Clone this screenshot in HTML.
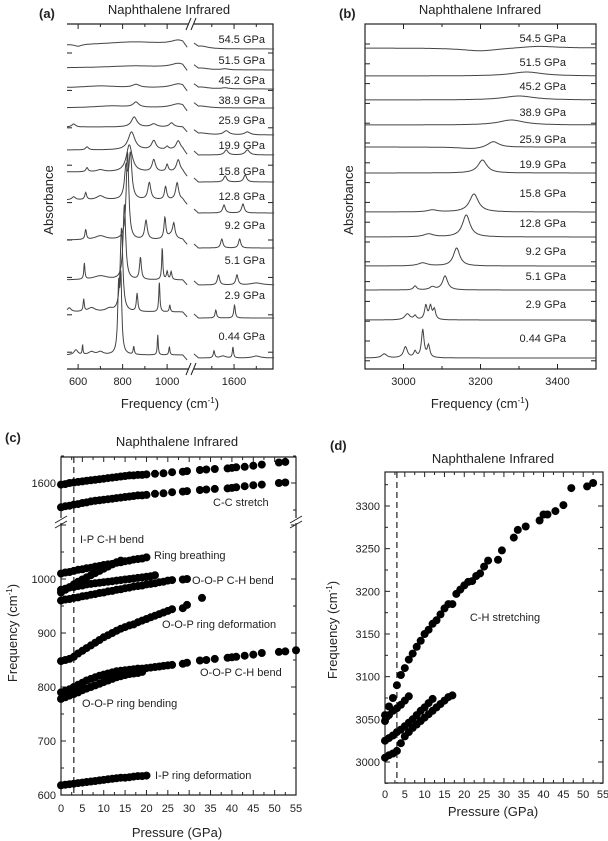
<!DOCTYPE html>
<html><head><meta charset="utf-8">
<style>
body{margin:0;background:#fff;}
svg{display:block;font-family:"Liberation Sans",Arial,sans-serif;}
text{fill:#222;}
</style></head>
<body>
<svg id="fig" width="608" height="841" viewBox="0 0 608 841">
<g id="frames" fill="none" stroke="#222" stroke-width="1.2">
  <path d="M67,24 H189 M194,24 H273 V369 H194 M189,369 H67 Z"/>
  <rect x="365" y="24" width="231" height="345"/>
  <path d="M61,518 V457 H296 V518 M296,523 V795 H61 V523"/>
  <rect x="385" y="472" width="218" height="311"/>
</g>
<g id="breaks" stroke="#222" stroke-width="1" fill="none">
  <path d="M186,30 L191,18 M191,30 L196,18"/>
  <path d="M186,375 L191,363 M191,375 L196,363"/>
  <path d="M55,523 L67,516 M55,528 L67,521"/>
  <path d="M290,523 L302,516 M290,528 L302,521"/>
</g>
<g id="txt" font-size="12">
  <text x="39" y="18" font-weight="bold" font-size="13">(a)</text>
  <text x="169" y="14" text-anchor="middle" font-size="13">Naphthalene Infrared</text>
  <text x="339" y="18" font-weight="bold" font-size="13">(b)</text>
  <text x="480" y="14" text-anchor="middle" font-size="13">Naphthalene Infrared</text>
  <text x="5" y="442" font-weight="bold" font-size="13">(c)</text>
  <text x="177" y="446" text-anchor="middle" font-size="13">Naphthalene Infrared</text>
  <text x="330" y="450" font-weight="bold" font-size="13">(d)</text>
  <text x="493" y="463" text-anchor="middle" font-size="13">Naphthalene Infrared</text>
  <text transform="translate(53,200) rotate(-90)" text-anchor="middle" font-size="13">Absorbance</text>
  <text transform="translate(353,200) rotate(-90)" text-anchor="middle" font-size="13">Absorbance</text>
  <text x="170" y="408" text-anchor="middle" font-size="13">Frequency (cm<tspan dy="-5" font-size="8">-1</tspan><tspan dy="5">)</tspan></text>
  <text x="480" y="408" text-anchor="middle" font-size="13">Frequency (cm<tspan dy="-5" font-size="8">-1</tspan><tspan dy="5">)</tspan></text>
  <text transform="translate(17,633) rotate(-90)" text-anchor="middle" font-size="13">Frequency (cm<tspan dy="-5" font-size="8">-1</tspan><tspan dy="5">)</tspan></text>
  <text transform="translate(337,630) rotate(-90)" text-anchor="middle" font-size="13">Frequency (cm<tspan dy="-5" font-size="8">-1</tspan><tspan dy="5">)</tspan></text>
  <text x="177" y="837" text-anchor="middle" font-size="13">Pressure (GPa)</text>
  <text x="493" y="816" text-anchor="middle" font-size="13">Pressure (GPa)</text>
  <text x="213" y="506" font-size="11">C-C stretch</text>
  <text x="80" y="543" font-size="11">I-P C-H bend</text>
  <text x="154" y="559" font-size="11">Ring breathing</text>
  <text x="192" y="584" font-size="11">O-O-P C-H bend</text>
  <text x="162" y="628" font-size="11">O-O-P ring deformation</text>
  <text x="200" y="676" font-size="11">O-O-P C-H bend</text>
  <text x="82" y="707" font-size="11">O-O-P ring bending</text>
  <text x="155" y="779" font-size="11">I-P ring deformation</text>
  <text x="505" y="621" text-anchor="middle" font-size="11">C-H stretching</text>
</g>
<g id="plots"></g>
</svg>
<script>
// ---------- data ----------
var pressureLabels = ["54.5 GPa","51.5 GPa","45.2 GPa","38.9 GPa","25.9 GPa","19.9 GPa","15.8 GPa","12.8 GPa","9.2 GPa","5.1 GPa","2.9 GPa","0.44 GPa"];
// panel (a) low-frequency segment peaks: [freq, height, width]
var aPeaks = [
 [[1050,4,40],[850,3,150],[600,-2,20]],
 [[1050,4,40],[850,2,150]],
 [[860,3,20],[1050,4,40],[700,2,100]],
 [[860,5,15],[1050,4,40],[750,2,100]],
 [[852,10,15],[940,3,15],[1020,4,12],[580,3,10]],
 [[840,18,18],[940,9,12],[1000,3,8],[1050,9,12],[640,3,8]],
 [[830,27,16],[940,12,9],[1000,7,6],[1050,12,10],[640,4,6],[700,2,20]],
 [[815,30,8],[835,44,8],[920,17,8],[993,13,6],[1045,17,8],[634,7,5],[700,4,20],[580,3,10]],
 [[822,88,7],[634,10,4],[905,19,7],[990,21,5],[1030,13,6],[700,4,30],[1020,5,20]],
 [[808,75,7],[628,16,3],[880,22,5],[978,32,3],[1000,8,4],[1018,8,4],[700,4,40]],
 [[795,84,7],[625,12,3],[865,18,4],[965,30,3],[1012,7,3],[660,4,20],[740,3,20],[560,4,10]],
 [[782,62,5],[792,72,5],[620,10,2],[850,8,3],[958,20,2.5],[1010,8,3],[590,5,10],[660,3,15],[700,3,15]]
];
// high-frequency segment peaks
var aPeaksHigh = [
 [[1450,3,40]],
 [[1560,1,20],[1450,2,40]],
 [[1560,1,20],[1450,2,40]],
 [[1450,2,40]],
 [[1565,4,15],[1660,3,15],[1450,2,40]],
 [[1565,5,10],[1660,5,12]],
 [[1560,6,8],[1650,7,8]],
 [[1555,8,7],[1640,9,7]],
 [[1545,9,6],[1625,9,6]],
 [[1530,10,6],[1613,10,6],[1700,2,30]],
 [[1518,8,4],[1602,13,4]],
 [[1510,7,4],[1595,11,3],[1550,2,15],[1700,2,20]]
];
var aBaselines = [45,68,88,108,127,150,172,200,240,280,312,355];
var aBaselinesHigh = [49,70,89,108,135,155,182,213,248,285,318,358];
var aLabelY = [43,64,84,104,124,149,175,200,229,264,299,340];
// panel (b)
var bPeaks = [
 [[3200,-3,60],[3350,2,60]],
 [[3320,4,50]],
 [[3300,4,50]],
 [[3280,5,40]],
 [[3233,6,18],[3180,-2,40]],
 [[3205,13,14]],
 [[3183,18,14],[3075,2,15]],
 [[3163,22,12],[3065,3,15]],
 [[3138,18,10],[3050,3,15]],
 [[3108,14,8],[3030,4,5],[3075,3,8]],
 [[3058,14,4],[3070,13,4],[3080,10,4],[3010,6,8],[3030,4,4]],
 [[3050,28,4],[3065,12,4],[3005,11,6],[3030,6,4],[2950,4,8]]
];
var bBaselines = [48,76,100,125,147,173,212,237,266,290,320,358];
var bLabelY = [42,66,90,116,143,168,197,227,255,280,308,342];
// panel (c) series
var ccUpperP = [0,1,2,3,4,5,6,7,8,9,10,11,12,13,14,15,16,17,18,19,20,22,24,26,28.5,29.5,32.5,34,36,39,40,41,43,45,47,51,52.5];
var ccUpperF = [1597,1598,1600,1601,1602,1603,1604,1605,1606,1607,1608,1609,1610,1611,1612,1613,1614,1614,1615,1615,1616,1617,1618,1620,1621,1622,1624,1625,1626,1627,1628,1629,1630,1632,1634,1638,1639];
var ccLowerF = [1555,1557,1558,1560,1561,1563,1564,1566,1567,1568,1569,1570,1571,1572,1573,1574,1575,1576,1577,1577,1578,1580,1581,1583,1584,1585,1587,1588,1589,1590,1591,1592,1594,1596,1597,1600,1601];
var ringBreathP = [0,1,2,3,4,5,6,7,8,9,10,11,12,13,14,15,16,17,18,19,20];
var ringBreathF = [1010,1012,1013,1015,1017,1018,1020,1021,1023,1024,1026,1027,1028,1030,1031,1033,1034,1036,1037,1038,1040];
var ipChP = [0,1,2,3,4,5,6,7,8,9,10,11,12,13,14];
var ipChF = [975,980,985,990,995,999,1003,1007,1011,1015,1019,1023,1027,1031,1034];
var oopChAP = [0,1,2,3,4,5,6,7,8,9,10,11,12,13,14,15,16,17,18,19,20,21,22];
var oopChAF = [980,982,984,985,987,988,990,991,992,993,994,995,996,997,998,999,1000,1001,1002,1003,1004,1005,1007];
var oopChBP = [0,1,2,3,4,5,6,7,8,9,10,11,12,13,14,15,16,17,18,19,20,21,22,23,24,25,26,28.5,29.5];
var oopChBF = [960,962,963,965,966,968,969,971,972,974,975,977,978,980,981,983,984,986,987,988,990,991,992,994,995,997,998,999,1000];
var oopRingDefP = [0,1,2,3,4,5,6,7,8,9,10,11,12,13,14,15,16,17,18,19,20,21,22,23,24,25,26,28.5,29.5,33];
var oopRingDefF = [848,850,852,856,862,867,872,877,882,887,892,896,900,904,908,911,914,916,920,923,926,929,932,935,938,941,944,946,952,965];
var oopChLowP = [0,1,2,3,4,5,6,7,8,9,10,11,12,13,14,15,16,17,18,19,20,21,22,23,24,25,26,28.5,29.5,32.5,34,36,39,40,41,43,45,47,51,52.5,55];
var oopChLowF = [790,793,796,800,804,808,812,815,818,821,823,825,827,829,830,831,832,833,834,834,835,836,837,838,839,840,841,843,845,849,850,852,854,855,856,858,860,863,865,866,868];
var oopBendP = [0,1,2,3,4,5,6,7,8,9,10,11,12,13,14,15,16,17,18,19];
var oopBendF = [778,781,784,787,790,794,797,800,803,806,809,812,815,818,820,822,824,825,826,828];
var ipRingDefP = [0,1,2,3,4,5,6,7,8,9,10,11,12,13,14,15,16,17,18,19,20];
var ipRingDefF = [618,619,620,621,622,623,624,625,626,627,628,629,630,631,632,632,633,634,635,635,636];
// panel (d)
var chMainP = [0,1,2,3,4,5,6,7,8,9,10,11,12,13,14,15,16,17,18,19,20,21,22,23,24,25,26,28.5,29.5,32.5,33.5,35.5,39,40,41,43,45,47,51,52.5];
var chMainF = [3055,3065,3075,3090,3102,3110,3120,3127,3135,3142,3150,3155,3162,3166,3173,3180,3185,3185,3197,3202,3207,3211,3212,3218,3221,3229,3236,3237,3248,3263,3272,3276,3283,3290,3290,3294,3301,3321,3323,3327];
var chBP = [0,1,2,3,4,5,6];
var chBF = [3048,3055,3060,3063,3067,3072,3077];
var chCP = [0,1,2,3,4,5,6,7,8,9,10,11,12];
var chCF = [3025,3028,3031,3035,3038,3042,3046,3050,3055,3060,3064,3069,3074];
var chDP = [0,1,2,3,4,5,6,7,8,9,10,11,12,13,14,15,16,17];
var chDF = [3005,3008,3010,3013,3022,3030,3035,3040,3044,3048,3052,3056,3060,3064,3068,3072,3076,3078];
var aXTicks = [600,800,1000,1600];
var bXTicks = [3000,3200,3400];
var cYTicks = [600,700,800,900,1000,1600];
var dYTicks = [3000,3050,3100,3150,3200,3250,3300];
var pTicks = [0,5,10,15,20,25,30,35,40,45,50,55];

// ---------- helpers ----------
var NS="http://www.w3.org/2000/svg";
var root=document.getElementById('plots');
function mk(tag,attrs,parent){var e=document.createElementNS(NS,tag);for(var k in attrs)e.setAttribute(k,attrs[k]);(parent||root).appendChild(e);return e;}
function xa(f){ if(f<=1100) return 67+(f-550)*0.2225; return 194+(f-1420)*0.2225; }
function xb(f){ return 365+(f-2900)*(231/600); }
function xc(p){ return 61+p*(235/55); }
function yc(f){ if(f>=1500) return 483-(f-1600)*0.54; return 795-(f-600)*0.54; }
function xd(p){ return 385+p*(218/55); }
function yd(f){ return 762-(f-3000)*(256/300); }
function lor(x,pk){var s=0;for(var i=0;i<pk.length;i++){var d=(x-pk[i][0])/pk[i][2];s+=pk[i][1]/(1+d*d);}return s;}

// ---------- panel a spectra ----------
for(var t=0;t<aPeaks.length;t++){
  var d="";
  for(var f=550,first=true;f<=1090;f+=1.5,first=false){
    var y=aBaselines[t]-lor(f,aPeaks[t]);
    if(f>1070) y+=(f-1070)*0.25;
    d+=(first?"M":"L")+xa(f).toFixed(1)+","+y.toFixed(1);
  }
  for(var f=1420,first=true;f<=1780;f+=1.5,first=false){
    var y=aBaselinesHigh[t]-lor(f,aPeaksHigh[t]);
    if(f<1440) y-=(1440-f)*0.2;
    d+=(first?"M":"L")+xa(f).toFixed(1)+","+y.toFixed(1);
  }
  var p=mk('path',{d:d,fill:'none',stroke:'#444','stroke-width':1});
  
  
  var tx=mk('text',{x:265,y:aLabelY[t],'text-anchor':'end','font-size':11});
  tx.textContent=pressureLabels[t];
  
  
}
// ---------- panel b spectra ----------
for(var t=0;t<bPeaks.length;t++){
  var d="";
  for(var f=2900,first=true;f<=3500;f+=1.5,first=false){
    var y=bBaselines[t]-lor(f,bPeaks[t]);
    d+=(first?"M":"L")+xb(f).toFixed(1)+","+y.toFixed(1);
  }
  var p=mk('path',{d:d,fill:'none',stroke:'#444','stroke-width':1});
  
  
  var tx=mk('text',{x:566,y:bLabelY[t],'text-anchor':'end','font-size':11});
  tx.textContent=pressureLabels[t];
  
  
}
// ---------- ticks ----------
function tick(x1,y1,x2,y2){var l=mk('line',{x1:x1,y1:y1,x2:x2,y2:y2,stroke:'#222','stroke-width':1});
  
  }
function label(x,y,s,anchor){var t=mk('text',{x:x,y:y,'text-anchor':anchor||'middle','font-size':11});t.textContent=s;
  
  }
for(var f=600;f<=1050;f+=100){var L=(f%200==0)?5:3;tick(xa(f),369,xa(f),369-L);tick(xa(f),24,xa(f),24+L);}
for(var f=1500;f<=1750;f+=100){var L=(f%200==0)?5:3;tick(xa(f),369,xa(f),369-L);tick(xa(f),24,xa(f),24+L);}
aXTicks.forEach(function(f){label(xa(f),385,String(f));});
for(var y=53;y<369;y+=37.4){tick(67,y,72,y);tick(273,y,268,y);}
for(var f=2900;f<=3500;f+=100){var L=(f%200==0)?5:3;tick(xb(f),369,xb(f),369-L);tick(xb(f),24,xb(f),24+L);}
bXTicks.forEach(function(f){label(xb(f),385,String(f));});
for(var y=44;y<369;y+=19.8){tick(365,y,370,y);tick(596,y,591,y);}
for(var pp=0;pp<=55;pp+=2.5){var L=(pp%5==0)?5:3;tick(xc(pp),795,xc(pp),795-L);tick(xc(pp),457,xc(pp),457+L);}
pTicks.forEach(function(pp){label(xc(pp),812,String(pp));});
for(var f=600;f<=1100;f+=50){var L=(f%100==0)?5:3;tick(61,yc(f),61+L,yc(f));tick(296,yc(f),296-L,yc(f));}
[1550,1600,1650].forEach(function(f){var L=f==1600?5:3;tick(61,yc(f),61+L,yc(f));tick(296,yc(f),296-L,yc(f));});
cYTicks.forEach(function(f){label(56,yc(f)+4,String(f),'end');});
for(var pp=0;pp<=55;pp+=2.5){var L=(pp%5==0)?5:3;tick(xd(pp),783,xd(pp),783-L);tick(xd(pp),472,xd(pp),472+L);}
pTicks.forEach(function(pp){label(xd(pp),798,String(pp));});
for(var f=2975;f<=3325;f+=25){var L=(f%50==0)?5:3;tick(385,yd(f),385+L,yd(f));tick(603,yd(f),603-L,yd(f));}
dYTicks.forEach(function(f){label(380,yd(f)+4,String(f),'end');});
var dl=mk('line',{x1:xc(3),y1:457,x2:xc(3),y2:795,stroke:'#222','stroke-width':1.2,'stroke-dasharray':'6,4'});


var dl2=mk('line',{x1:xd(3),y1:472,x2:xd(3),y2:783,stroke:'#222','stroke-width':1.2,'stroke-dasharray':'6,4'});


// ---------- points ----------
function series(P,F,xf,yf,name){
  var g=mk('g',{fill:'#000'});
  
  
  for(var i=0;i<P.length;i++){
    var c=mk('circle',{cx:xf(P[i]).toFixed(1),cy:yf(F[i]).toFixed(1),r:4},g);
    
    
  }
}
series(ccUpperP,ccUpperF,xc,yc,'cc-stretch-upper-series');
series(ccUpperP,ccLowerF,xc,yc,'cc-stretch-lower-series');
series(ringBreathP,ringBreathF,xc,yc,'ring-breathing-series');
series(ipChP,ipChF,xc,yc,'ip-ch-bend-series');
series(oopChAP,oopChAF,xc,yc,'oop-ch-bend-a-series');
series(oopChBP,oopChBF,xc,yc,'oop-ch-bend-b-series');
series(oopRingDefP,oopRingDefF,xc,yc,'oop-ring-deformation-series');
series(oopChLowP,oopChLowF,xc,yc,'oop-ch-bend-low-series');
series(oopBendP,oopBendF,xc,yc,'oop-ring-bending-series');
series(ipRingDefP,ipRingDefF,xc,yc,'ip-ring-deformation-series');
series(chMainP,chMainF,xd,yd,'ch-stretch-main-series');
series(chBP,chBF,xd,yd,'ch-stretch-b-series');
series(chCP,chCF,xd,yd,'ch-stretch-c-series');
series(chDP,chDF,xd,yd,'ch-stretch-d-series');
</script>
</body></html>
